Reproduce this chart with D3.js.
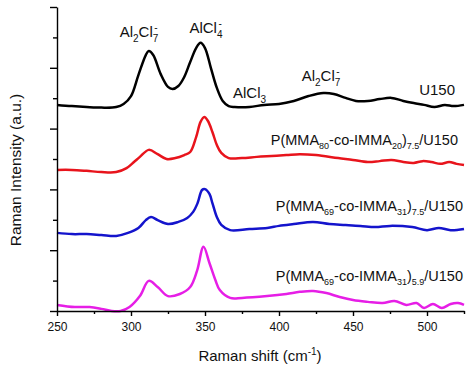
<!DOCTYPE html>
<html lang="en">
<head>
  <meta charset="utf-8">
  <title>Raman spectra</title>
  <style>
  html, body {padding: 0; margin: 0; overflow: hidden; background: #fff}
  text {font-family: Arial, "Liberation Sans", sans-serif; fill: #111}
</style>
</head>
<body>
  <svg width="474" height="368"></svg>
  <script src="https://d3js.org/d3.v7.min.js"></script>
  <script>

  // spectra: [Raman shift (cm-1), intensity (a.u., offset stacked)]
  var u150 = [[250,6.78],[260,6.74],[270,6.71],[280,6.69],[290,6.71],[295,6.81],[300,7.07],[305,7.76],
    [310,8.42],[312,8.55],[315,8.42],[320,7.80],[325,7.37],[328,7.30],[332,7.40],[336,7.70],[340,8.19],
    [344,8.65],[347,8.82],[350,8.65],[354,7.99],[358,7.34],[362,6.91],[366,6.74],[370,6.71],[380,6.71],
    [390,6.78],[400,6.81],[410,6.91],[420,7.07],[430,7.17],[437,7.14],[445,7.01],[452,6.91],[460,6.91],
    [468,6.97],[476,7.01],[484,6.91],[491,6.84],[498,6.78],[505,6.71],[512,6.78],[518,6.74],[525,6.78]];

  var mma80 = [[250,4.64],[260,4.64],[270,4.61],[280,4.57],[290,4.57],[297,4.70],[302,4.90],[306,5.07],
    [312,5.30],[318,5.16],[324,5.00],[330,5.03],[336,5.13],[340,5.23],[344,5.72],[347,6.22],[349.5,6.38],
    [352,6.25],[355,5.89],[358,5.46],[361,5.20],[366,5.03],[375,5.03],[385,5.07],[395,5.10],[405,5.13],
    [414,5.16],[425,5.13],[440,5.03],[450,4.97],[460,4.90],[468,4.93],[476,4.97],[484,4.90],[491,4.87],
    [497,4.93],[503,4.90],[509,4.84],[515,4.90],[520,4.84],[525,4.80]];

  var mma69a = [[250,2.57],[260,2.53],[270,2.53],[280,2.50],[290,2.47],[298,2.57],[305,2.73],[310,2.99],
    [313.5,3.09],[318,2.99],[325,2.86],[332,2.93],[338,3.06],[342,3.26],[345,3.55],[348,3.98],[350,4.01],
    [353,3.85],[355,3.55],[358,3.09],[361,2.83],[367,2.66],[380,2.70],[392,2.73],[400,2.80],[410,2.86],
    [423,2.93],[434,2.86],[445,2.83],[455,2.80],[465,2.76],[475,2.80],[490,2.76],[500,2.66],[508,2.73],
    [516,2.66],[525,2.70]];

  var mma69b = [[250,0.20],[262,0.13],[272,0.13],[280,0.07],[287,0.00],[293,0.00],[299,0.13],[306,0.49],
    [312,0.99],[318,0.79],[325,0.49],[333,0.56],[340,0.79],[344.6,1.32],[349,2.11],[353,1.58],[357,1.02],
    [360,0.69],[367,0.43],[375,0.43],[392,0.49],[405,0.56],[414,0.63],[423,0.66],[432,0.59],[441,0.46],
    [450,0.36],[460,0.30],[470,0.26],[478,0.33],[486,0.20],[493,0.26],[498,0.10],[504,0.23],[510,0.10],
    [516,0.23],[521,0.26],[525,0.20]];

  var series = [u150, mma80, mma69a, mma69b];
  var colors = ["#000000", "#e8141c", "#1414cc", "#e61ee6"];

  var xMajor = [250, 300, 350, 400, 450, 500];
  var xMinor = [275, 325, 375, 425, 475, 525];
  var yMajor = [0, 2, 4, 6, 8, 10];
  var yMinor = [1, 3, 5, 7, 9];

  var svg = d3.select("svg");

  var x = d3.scaleLinear().domain([250, 525]).range([57, 464]);
  var y = d3.scaleLinear().domain([0, 10]).range([311, 7]);

  var line = d3.line()
    .x(function(d) { return x(d[0]); })
    .y(function(d) { return y(d[1]); })
    .curve(d3.curveCatmullRom.alpha(0.5));

  series.forEach(function(s, i) {
    svg.append("path")
      .attr("d", line(s))
      .attr("fill", "none")
      .attr("stroke", colors[i])
      .attr("stroke-width", 2.5)
      .attr("stroke-linejoin", "round");
  });

  // axes
  var gx = svg.append("g").attr("transform", "translate(0,311)");
  gx.call(d3.axisBottom(x).tickValues(xMajor).tickSize(5).tickSizeOuter(0).tickPadding(6));
  gx.append("g").call(d3.axisBottom(x).tickValues(xMinor).tickSize(3).tickSizeOuter(0).tickFormat(""))
    .select(".domain").remove();

  var gy = svg.append("g").attr("transform", "translate(57,0)");
  gy.call(d3.axisLeft(y).tickValues(yMajor).tickSize(7).tickSizeOuter(0).tickFormat(""));
  gy.append("g").call(d3.axisLeft(y).tickValues(yMinor).tickSize(4).tickSizeOuter(0).tickFormat(""))
    .select(".domain").remove();

  svg.selectAll(".domain, .tick line").attr("stroke", "#000").attr("stroke-width", 1.4);
  gx.selectAll(".tick text").attr("font-size", 12).attr("font-family", "Arial, 'Liberation Sans', sans-serif").attr("fill", "#111");

  // rich text with sub/superscripts: parts = [text, mode] where mode is "", "sub", "sup", "supOver"
  function rich(px, py, parts, size, anchor) {
    var t = svg.append("text").attr("x", px).attr("y", py)
      .attr("font-size", size).attr("text-anchor", anchor || "start");
    var shift = 0, small = Math.round(size * 0.65);
    parts.forEach(function(p) {
      var target = p[1] == "sub" ? size * 0.3 : (p[1] == "sup" || p[1] == "supOver") ? -size * 0.42 : 0;
      var ts = t.append("tspan").text(p[0]).attr("dy", target - shift);
      if (p[1]) ts.attr("font-size", small);
      if (p[1] == "supOver") ts.attr("dx", -small * 0.4);
      shift = target;
    });
    return t;
  }

  rich(139, 37, [["Al",""],["2","sub"],["Cl",""],["7","sub"],["-","supOver"]], 15, "middle");
  rich(206, 33, [["AlCl",""],["4","sub"],["-","supOver"]], 15, "middle");
  rich(233, 98, [["AlCl",""],["3","sub"]], 15, "start");
  rich(321, 81, [["Al",""],["2","sub"],["Cl",""],["7","sub"],["-","supOver"]], 15, "middle");
  rich(455, 95, [["U150",""]], 15, "end");
  rich(458, 145, [["P(MMA",""],["80","sub"],["-co-IMMA",""],["20","sub"],[")",""],["7.5","sub"],["/U150",""]], 14.5, "end");
  rich(463, 211, [["P(MMA",""],["69","sub"],["-co-IMMA",""],["31","sub"],[")",""],["7.5","sub"],["/U150",""]], 14.5, "end");
  rich(463, 281, [["P(MMA",""],["69","sub"],["-co-IMMA",""],["31","sub"],[")",""],["5.9","sub"],["/U150",""]], 14.5, "end");

  // axis titles
  rich(260, 361, [["Raman shift (cm",""],["-1","sup"],[")",""]], 15, "middle");
  svg.append("text")
    .attr("transform", "translate(21,170) rotate(-90)")
    .attr("text-anchor", "middle")
    .attr("font-size", 15.5)
    .text("Raman Intensity (a.u.)");

  </script>
</body>
</html>
